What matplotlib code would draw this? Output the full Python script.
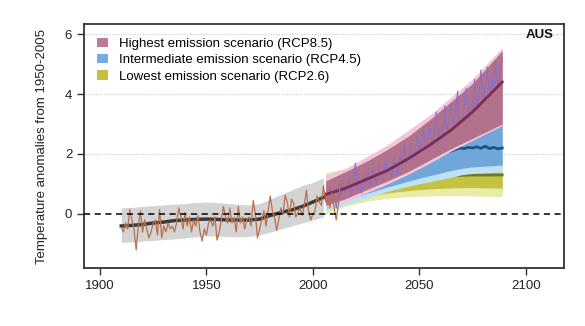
import matplotlib
matplotlib.use("Agg")
import matplotlib.pyplot as plt
from matplotlib.patches import Patch

plt.rcParams['font.family'] = ['Liberation Sans', 'DejaVu Sans']

# ---- historical (gray) ----
hist_years = [1910, 1915, 1920, 1925, 1930, 1935, 1940, 1945, 1950, 1955,
              1960, 1965, 1970, 1975, 1980, 1985, 1990, 1995, 2000, 2005]
hist_mean = [-0.40, -0.38, -0.35, -0.30, -0.27, -0.22, -0.20, -0.18, -0.17, -0.18,
             -0.20, -0.20, -0.20, -0.17, -0.05, 0.05, 0.13, 0.25, 0.40, 0.55]
hist_hi = [0.20, 0.22, 0.25, 0.28, 0.30, 0.33, 0.35, 0.38, 0.40, 0.38,
           0.35, 0.32, 0.30, 0.35, 0.50, 0.65, 0.80, 0.95, 1.05, 1.20]
hist_lo = [-0.95, -0.93, -0.90, -0.88, -0.85, -0.83, -0.80, -0.76, -0.73, -0.74,
           -0.75, -0.76, -0.75, -0.70, -0.60, -0.50, -0.40, -0.30, -0.20, -0.10]

# observed annual anomalies
obs_years = list(range(1910, 2014))
obs = [-0.45, -0.60, -0.30, -0.50, 0.15, -0.20, -0.50, -1.20, -0.40, 0.10,
       -0.60, -0.20, -0.50, -0.80, -0.60, -0.30, -0.20, -0.70, 0.15, -0.80,
       -0.40, -0.60, -0.30, -0.50, -0.40, -0.60, -0.30, 0.20, -0.10, -0.50,
       0.05, -0.40, -0.10, -0.60, -0.20, -0.40, -0.05, -0.60, -0.90, -0.50,
       -0.70, -0.30, -0.20, -0.40, -0.10, -0.87, -0.60, -0.20, 0.25, -0.10,
       -0.30, 0.20, -0.30, -0.10, -0.60, 0.25, -0.30, -0.10, -0.50, -0.20,
       -0.10, -0.40, 0.45, 0.00, -0.80, -0.50, -0.20, 0.10, -0.40, 0.10,
       0.60, 0.10, -0.10, -0.55, -0.20, 0.20, 0.00, 0.63, 0.40, -0.10,
       0.50, 0.35, -0.10, 0.05, 0.20, -0.05, 0.30, 0.80, 0.10, -0.20,
       0.00, 0.10, 0.60, 0.40, 0.30, 0.95, 0.40, 0.60, 0.20, 0.70,
       0.20, -0.20, 0.30, 1.10]

# ---- projections ----
proj_years = [2006, 2015, 2025, 2035, 2045, 2055, 2065, 2070, 2075, 2089]

r85_out_hi = [1.30, 1.50, 1.90, 2.30, 2.80, 3.30, 3.90, 4.20, 4.50, 5.55]
r85_in_hi = [1.10, 1.40, 1.75, 2.15, 2.60, 3.15, 3.75, 4.05, 4.35, 5.45]
r85_mean = [0.65, 0.85, 1.15, 1.45, 1.85, 2.30, 2.80, 3.10, 3.40, 4.40]
r85_in_lo = [0.30, 0.50, 0.80, 1.10, 1.42, 1.80, 2.18, 2.35, 2.52, 3.00]
r85_out_lo = [0.20, 0.42, 0.70, 1.00, 1.33, 1.70, 2.10, 2.28, 2.45, 2.95]

r45_out_hi = [1.25, 1.45, 1.75, 2.05, 2.45, 2.85, 3.15, 3.25, 3.35, 3.45]
r45_in_hi = [1.05, 1.30, 1.55, 1.85, 2.25, 2.55, 2.85, 2.92, 2.98, 3.05]
r45_in_lo = [0.25, 0.45, 0.68, 0.90, 1.10, 1.28, 1.45, 1.52, 1.57, 1.63]
r45_out_lo = [0.10, 0.30, 0.52, 0.75, 0.93, 1.08, 1.22, 1.31, 1.35, 1.40]

r26_out_hi = [1.38, 1.52, 1.65, 1.72, 1.76, 1.78, 1.78, 1.78, 1.78, 1.78]
r26_in_hi = [0.95, 1.10, 1.20, 1.28, 1.33, 1.36, 1.38, 1.39, 1.40, 1.40]
r26_mean = [0.55, 0.80, 0.98, 1.10, 1.16, 1.22, 1.27, 1.29, 1.30, 1.30]
r26_in_lo = [0.15, 0.40, 0.58, 0.70, 0.78, 0.84, 0.87, 0.88, 0.88, 0.86]
r26_out_lo = [0.00, 0.25, 0.42, 0.52, 0.58, 0.60, 0.61, 0.61, 0.60, 0.58]

r45_mean_years = [2006, 2015, 2025, 2035, 2045, 2055, 2062, 2065, 2067, 2069,
                  2071, 2073, 2075, 2077, 2079, 2081, 2083, 2085, 2087, 2089]
r45_mean = [0.60, 0.80, 1.05, 1.35, 1.65, 1.90, 2.05, 2.10, 2.15, 2.20,
            2.18, 2.22, 2.20, 2.24, 2.19, 2.26, 2.18, 2.22, 2.17, 2.20]

# one model run (RCP8.5)
run_years = list(range(2006, 2090))
run = [0.70, 0.30, 0.90, 0.50, 0.80, 0.20, 0.90, 0.60, 1.10, 0.70,
       0.90, 1.20, 0.60, 1.00, 1.70, 0.80, 1.10, 0.70, 1.30, 1.00,
       1.40, 0.90, 1.50, 1.20, 1.00, 1.60, 1.30, 1.10, 1.80, 1.40,
       1.60, 1.20, 1.90, 1.50, 1.30, 2.00, 1.60, 2.30, 1.70, 1.90,
       2.40, 1.80, 2.10, 2.60, 2.00, 2.30, 2.90, 2.20, 2.50, 3.00,
       2.30, 2.70, 3.40, 2.60, 2.90, 2.40, 3.60, 2.80, 3.10, 3.70,
       2.90, 3.30, 4.10, 3.00, 3.10, 3.50, 4.20, 3.20, 3.80, 3.40,
       4.50, 3.50, 4.00, 4.80, 3.70, 4.30, 4.90, 3.90, 4.60, 4.10,
       5.00, 4.20, 4.80, 5.20]

labels = ['Highest emission scenario (RCP8.5)',
          'Intermediate emission scenario (RCP4.5)',
          'Lowest emission scenario (RCP2.6)']

fig = plt.figure(figsize=(5.85, 3.26), dpi=100)
ax = fig.add_axes([0.1436, 0.178, 0.8205, 0.748])

ax.set_xlim(1892.5, 2118)
ax.set_ylim(-1.8, 6.33)

for yv in [2, 4, 6]:
    ax.axhline(yv, color='#c8c8c8', lw=0.8, ls=(0, (1, 1.5)), zorder=0)

# historical
ax.fill_between(hist_years, hist_lo, hist_hi, color='#d4d4d4', lw=0, zorder=1)

# RCP2.6
ax.fill_between(proj_years, r26_out_lo, r26_out_hi, color='#e9eca6', lw=0, zorder=2)
ax.fill_between(proj_years, r26_in_lo, r26_in_hi, color='#c3c341', lw=0, zorder=2)
ax.plot(proj_years, r26_mean, color='#6c7c1c', lw=2, zorder=2)

# RCP4.5
ax.fill_between(proj_years, r45_out_lo, r45_out_hi, color='#c0e0f4', lw=0, zorder=3)
ax.fill_between(proj_years, r45_in_lo, r45_in_hi, color='#70a7d8', lw=0, zorder=3)
ax.plot(r45_mean_years, r45_mean, color='#1c5588', lw=2, zorder=3)

# RCP8.5
ax.fill_between(proj_years, r85_out_lo, r85_out_hi, color='#f4c4d9', lw=0, zorder=4)
ax.fill_between(proj_years, r85_in_lo, r85_in_hi, color='#b3728b', lw=0, zorder=4)
ax.plot(run_years, run, color='#8b6fc2', lw=0.8, zorder=5)
ax.plot(proj_years, r85_mean, color='#7a2c52', lw=2, zorder=6)

ax.plot(hist_years, hist_mean, color='#3a3a3a', lw=2.5, zorder=6)
ax.plot(obs_years, obs, color='#b8704e', lw=0.9, zorder=7)

ax.axhline(0, color='black', lw=1.1, ls=(0, (4, 3)), zorder=8)

ax.set_xticks([1900, 1950, 2000, 2050, 2100])
ax.set_yticks([0, 2, 4, 6])
ax.tick_params(direction='out', length=5, width=1, color='#333333',
               labelsize=9.5, labelcolor='#222222')
for s in ax.spines.values():
    s.set_color('#333333')
    s.set_linewidth(1.3)

ax.set_ylabel('Temperature anomalies from 1950-2005', fontsize=9.5,
              color='#222222', labelpad=12)

handles = [Patch(facecolor='#b97d95', edgecolor='none'),
           Patch(facecolor='#74aee0', edgecolor='none'),
           Patch(facecolor='#c4c043', edgecolor='none')]
ax.legend(handles, labels, loc='upper left', bbox_to_anchor=(0.027, 0.943),
          frameon=False, fontsize=9.5, borderaxespad=0, borderpad=0,
          handlelength=0.8, handleheight=0.7, handletextpad=0.9,
          labelspacing=0.3)

ax.text(0.979, 0.955, 'AUS', transform=ax.transAxes, ha='right', va='center',
        fontsize=9.5, fontweight='bold', color='#111111')

fig.savefig('out.png', dpi=100)
